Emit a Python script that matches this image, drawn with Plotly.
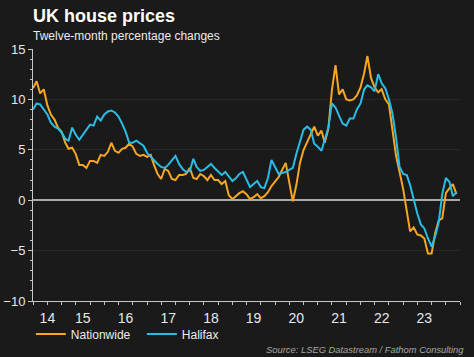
import plotly.graph_objects as go
import pandas as pd

# Monthly dates: May 2014 .. Apr 2024
dates = pd.date_range("2014-05-01", "2024-04-01", freq="MS")

nationwide = [
    # 2014 May-Dec
    11.1, 11.8, 10.6, 11.0, 9.4, 8.5, 8.0, 7.2,
    # 2015
    6.8, 5.7, 5.1, 5.2, 4.6, 3.5, 3.5, 3.2, 3.9, 3.9, 3.7, 4.5,
    # 2016
    4.4, 4.8, 5.7, 4.9, 4.7, 5.1, 5.2, 5.6, 5.3, 4.6, 4.4, 4.5,
    # 2017
    4.3, 4.5, 3.5, 2.6, 2.1, 3.1, 2.9, 2.1, 2.0, 2.5, 2.5, 2.6,
    # 2018
    3.2, 2.2, 2.1, 2.6, 2.4, 2.0, 2.5, 2.0, 2.0, 1.6, 1.9, 0.5,
    # 2019
    0.1, 0.4, 0.7, 0.9, 0.6, 0.1, 0.3, 0.6, 0.2, 0.4, 0.8, 1.4,
    # 2020
    1.9, 2.3, 3.0, 3.7, 1.8, -0.1, 1.5, 3.7, 5.0, 5.8, 6.5, 7.3,
    # 2021
    6.4, 6.9, 5.7, 7.1, 10.9, 13.4, 10.5, 11.0, 10.0, 9.9, 10.0, 10.4,
    # 2022
    11.2, 12.6, 14.3, 12.1, 11.2, 10.7, 11.0, 10.0, 9.5, 7.2, 4.4, 2.8,
    # 2023
    1.1, -1.1, -3.1, -2.7, -3.4, -3.5, -3.8, -5.3, -5.3, -3.3, -2.0, -1.8,
    # 2024 Jan-Apr
    0.7, 1.2, 1.6, 0.6,
]

halifax = [
    # 2014 May-Dec
    9.0, 9.6, 9.5, 9.0, 8.5, 7.7, 7.3, 7.1,
    # 2015
    6.7, 6.1, 5.9, 7.2, 6.5, 6.0, 6.5, 7.1, 7.5, 7.4, 8.3, 7.9,
    # 2016
    8.5, 8.8, 8.9, 8.7, 8.3, 7.6, 6.8, 5.7, 5.7, 5.9, 5.6, 5.4,
    # 2017
    4.7, 4.3, 4.0, 3.6, 3.3, 3.2, 3.5, 3.9, 4.4, 3.6, 3.1, 2.8,
    # 2018
    2.9, 4.1, 3.3, 2.9, 3.0, 3.3, 3.6, 3.2, 2.8, 2.5, 2.8, 2.3,
    # 2019
    1.9, 2.2, 2.6, 2.8, 2.0, 1.3, 1.6, 1.9, 1.3, 1.2, 2.2, 4.0,
    # 2020
    3.3, 2.6, 2.7, 2.8, 3.0, 3.2, 4.6, 5.8, 7.0, 7.3, 7.0, 5.6,
    # 2021
    5.3, 4.9, 6.0, 7.2, 9.6, 9.2, 8.4, 7.6, 7.4, 8.1, 8.1, 9.0,
    # 2022
    9.6, 11.0, 11.4, 11.2, 10.8, 12.5, 11.6, 11.1, 10.0, 8.6, 6.2, 3.3,
    # 2023
    2.6, 2.5, 1.5, 0.0, -1.3, -2.4, -2.8, -3.8, -4.6, -3.6, -2.2, 0.6,
    # 2024 Jan-Apr
    2.2, 1.8, 0.4, 0.8,
]

year_tick_vals = ["2014-09-01"] + [f"{y}-07-01" for y in range(2015, 2024)]
year_tick_text = ["14", "15", "16", "17", "18", "19", "20", "21", "22", "23"]

series_names = ["Nationwide", "Halifax"]
series_colors = ["#f5a623", "#29bde6"]

BG = "#1a1a1a"
FONT = "Liberation Sans, Arial, sans-serif"

fig = go.Figure()
for name, vals, col in zip(series_names, [nationwide, halifax], series_colors):
    fig.add_trace(go.Scatter(
        x=dates, y=vals, mode="lines", name=name,
        line=dict(color=col, width=2),
    ))

fig.update_layout(
    width=474, height=357,
    paper_bgcolor=BG, plot_bgcolor=BG,
    margin=dict(l=33, r=14, t=49, b=56, autoexpand=False),
    font=dict(family=FONT, color="#e8e8e8", size=13),
    showlegend=True,
    legend=dict(
        orientation="h", x=-0.005, y=-0.131, xanchor="left", yanchor="middle",
        font=dict(size=12, color="#ececec"), bgcolor="rgba(0,0,0,0)",
        entrywidth=66, entrywidthmode="pixels", itemwidth=30,
    ),
    xaxis=dict(
        type="date", range=["2014-05-01", "2024-05-01"],
        tickmode="array", tickvals=year_tick_vals, ticktext=year_tick_text,
        ticks="", showgrid=False, zeroline=False,
        showline=True, linecolor="#c8c8c8", linewidth=1,
        tickfont=dict(size=14, color="#e8e8e8"), ticklabelstandoff=4,
        minor=dict(tickmode="linear", tick0="2014-01-01", dtick="M4",
                   ticks="outside", ticklen=3, tickcolor="#c8c8c8", showgrid=False),
    ),
    yaxis=dict(
        range=[-10, 15], tickmode="linear", tick0=-10, dtick=5,
        ticks="outside", ticklen=4, tickcolor="#c8c8c8",
        showline=True, linecolor="#c8c8c8", linewidth=1,
        showgrid=True, gridcolor="#262626", gridwidth=1,
        zeroline=True, zerolinecolor="#a8a8a8", zerolinewidth=1.5,
        tickfont=dict(size=13, color="#e8e8e8"),
        minor=dict(tickmode="linear", dtick=1, ticks="outside", ticklen=2,
                   tickcolor="#c8c8c8", showgrid=False),
    ),
    annotations=[
        dict(text="<b>UK house prices</b>", xref="paper", yref="paper",
             x=-0.004, y=1.132, xanchor="left", yanchor="middle", showarrow=False,
             font=dict(size=18, color="#ffffff", family=FONT)),
        dict(text="Twelve-month percentage changes", xref="paper", yref="paper",
             x=-0.004, y=1.050, xanchor="left", yanchor="middle", showarrow=False,
             font=dict(size=12, color="#ececec", family=FONT)),
        dict(text="<i>Source: LSEG Datastream / Fathom Consulting</i>", xref="paper", yref="paper",
             x=1.014, y=-0.191, xanchor="right", yanchor="middle", showarrow=False,
             font=dict(size=9.4, color="#a8a8a8", family=FONT)),
    ],
)

fig.write_html(
    "out.html",
    config={"displayModeBar": False},
    post_script="document.body.style.margin='0';document.body.style.background='#1a1a1a';",
)
